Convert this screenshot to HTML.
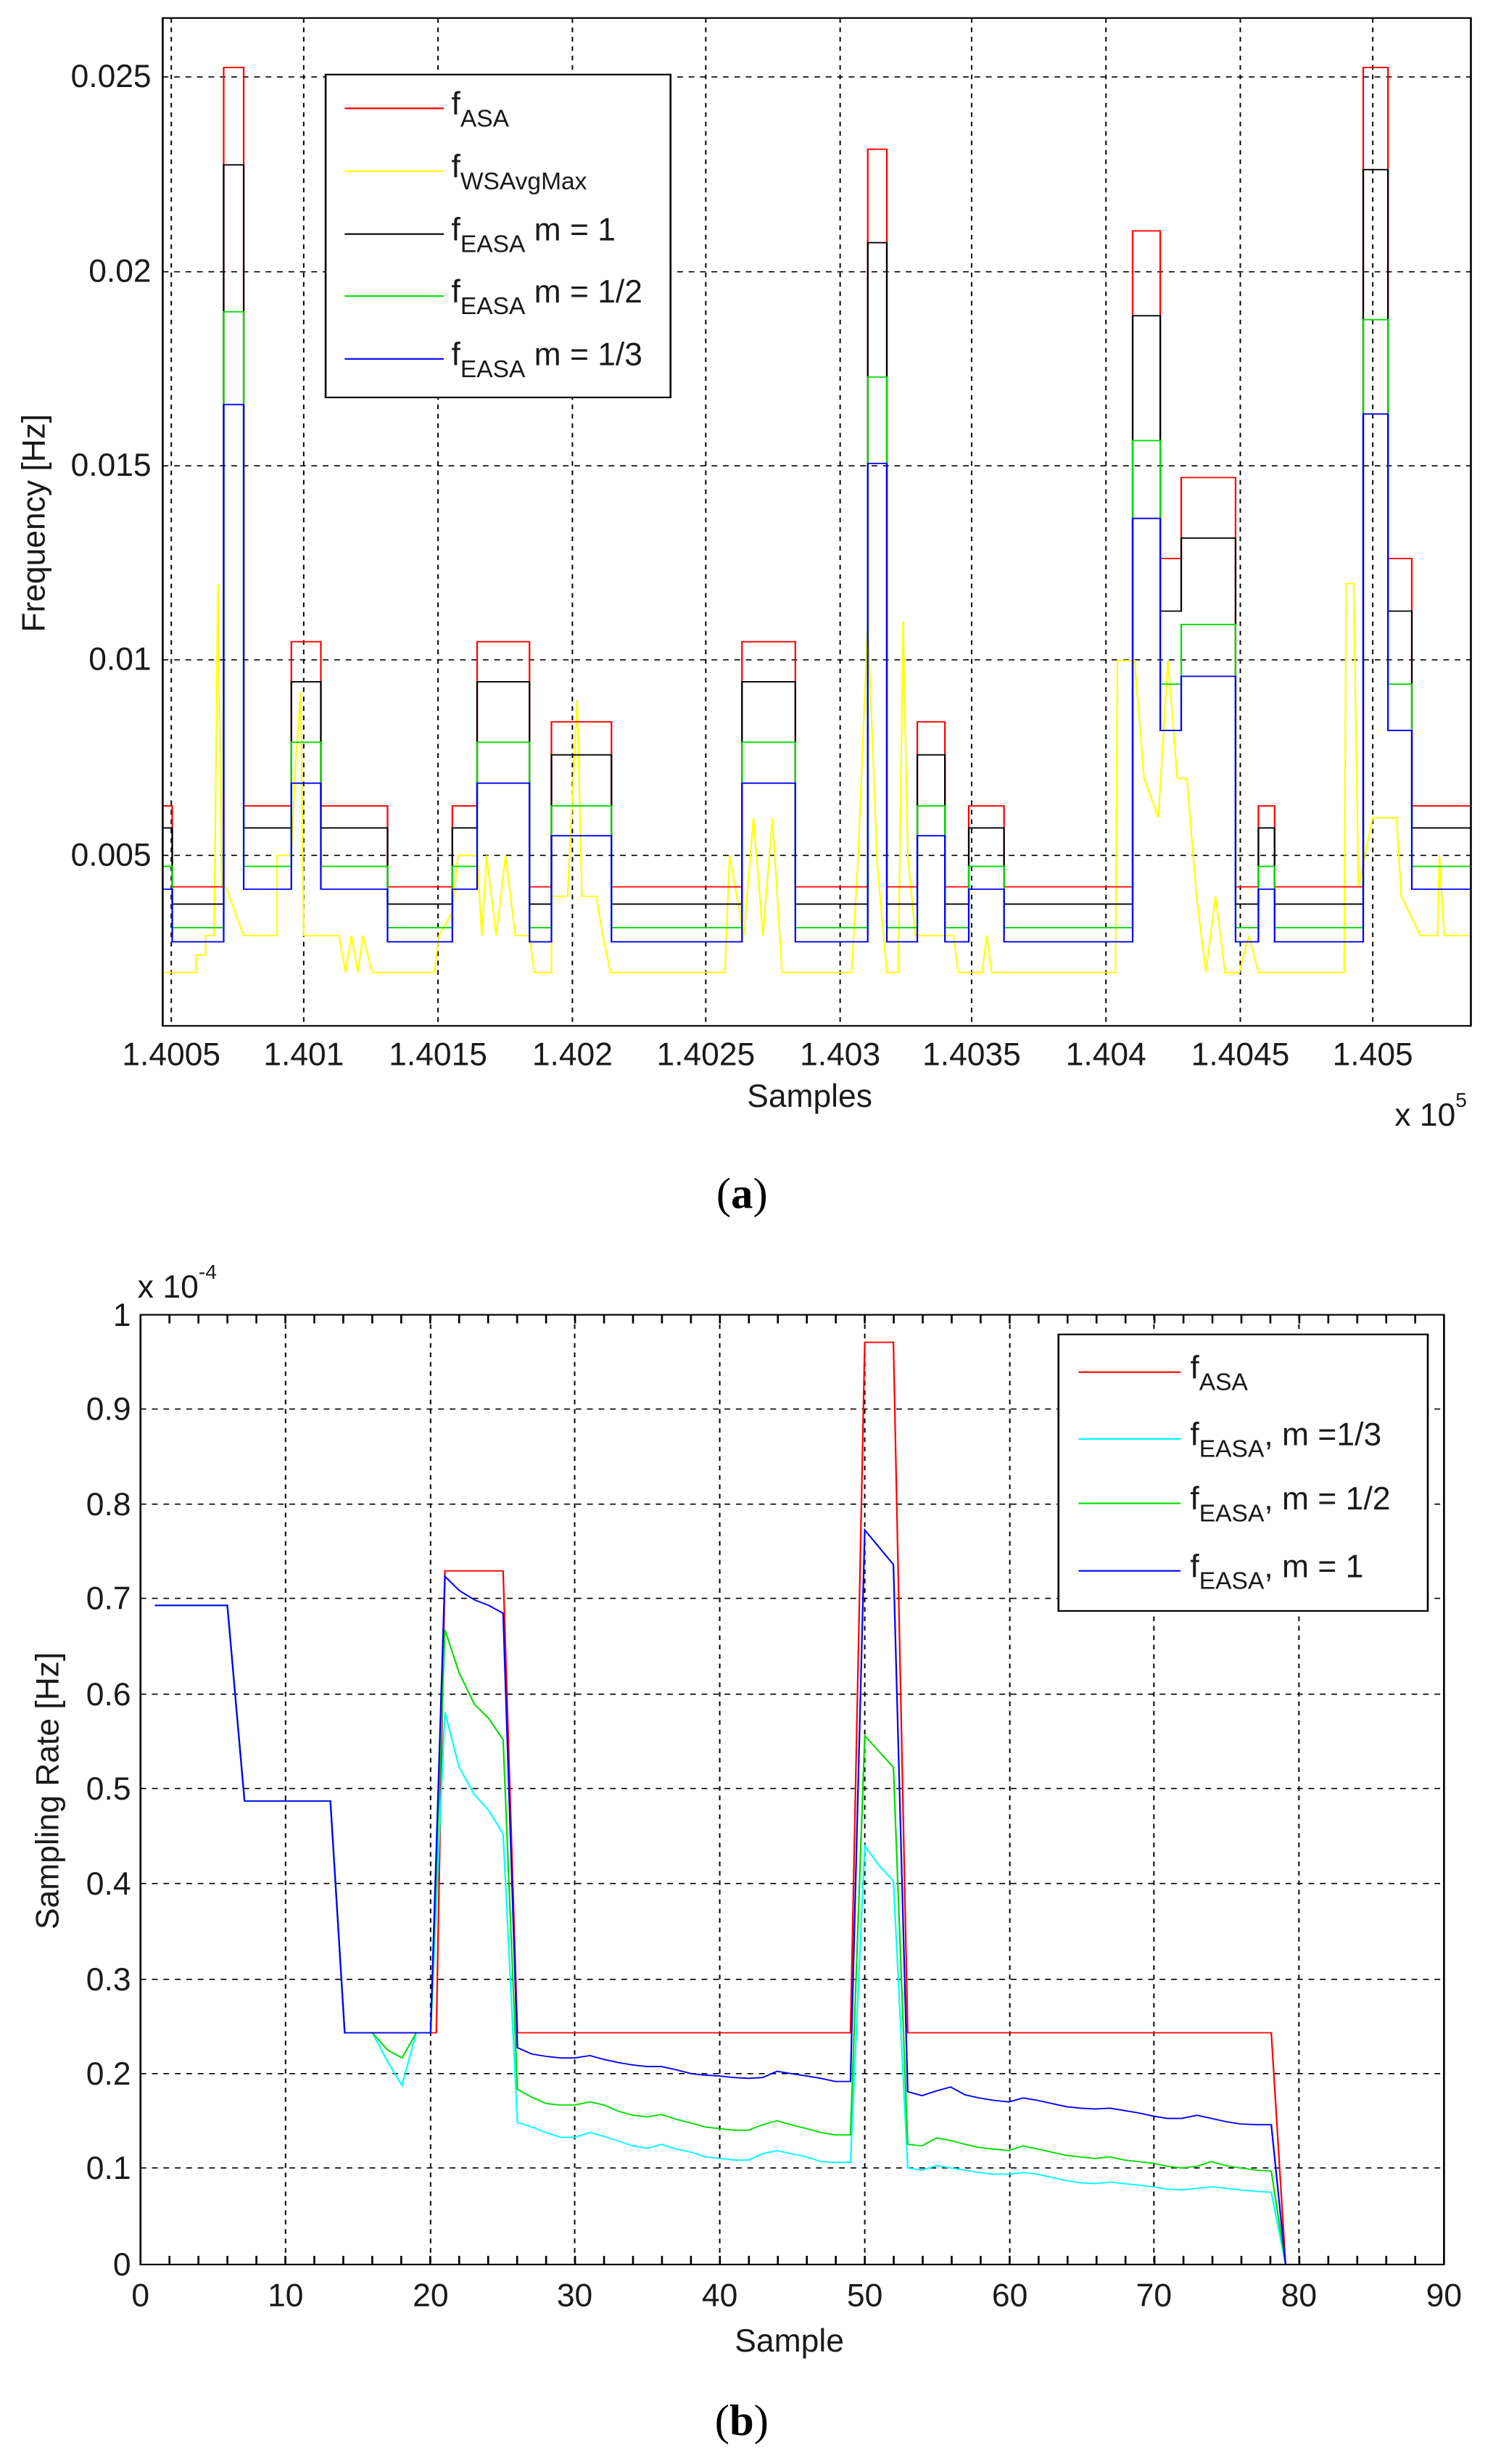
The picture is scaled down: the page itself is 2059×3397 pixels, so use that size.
<!DOCTYPE html>
<html><head><meta charset="utf-8"><style>
html,body{margin:0;padding:0;background:#fff;overflow:hidden;}
svg{display:block;}
text{font-family:"Liberation Sans",sans-serif;fill:#1a1a1a;}
.t{font-size:41px;}
.cap{font-family:"Liberation Serif",serif;font-size:56px;fill:#000;}
</style></head><body>
<svg id="s" width="2059" height="3397" viewBox="0 0 2059 3397" xmlns="http://www.w3.org/2000/svg">
<rect width="2059" height="3397" fill="#fff"/>
<g id="A" transform="translate(1,1) scale(1.314,1.083)">
  <g id="Agrid" stroke="#000" stroke-width="1.5" stroke-dasharray="6,6" fill="none"></g>
  <g id="Aseries" fill="none" stroke-width="1.7" stroke-linejoin="miter"></g>
  <rect x="170" y="22" width="1373" height="1283" fill="none" stroke="#000" stroke-width="2"/>
  <g class="t" text-anchor="end">
    <text x="158" y="110">0.025</text><text x="158" y="358">0.02</text><text x="158" y="605">0.015</text><text x="158" y="852">0.01</text><text x="158" y="1101">0.005</text>
  </g>
  <g class="t" text-anchor="middle">
    <text x="179" y="1355">1.4005</text><text x="318" y="1355">1.401</text><text x="459" y="1355">1.4015</text><text x="600" y="1355">1.402</text><text x="740" y="1355">1.4025</text><text x="881" y="1355">1.403</text><text x="1019" y="1355">1.4035</text><text x="1160" y="1355">1.404</text><text x="1301" y="1355">1.4045</text><text x="1440" y="1355">1.405</text>
    <text x="849" y="1408">Samples</text>
  </g>
  <text class="t" x="1463" y="1432">x 10<tspan font-size="26" dy="-24">5</tspan></text>
  <text class="t" text-anchor="middle" transform="translate(46,665) rotate(-90) scale(1,0.824)">Frequency [Hz]</text>
  <text class="cap" x="778" y="1537" text-anchor="middle">(<tspan font-weight="bold">a</tspan>)</text>
  <rect x="341" y="94" width="362" height="411" fill="#fff" stroke="#000" stroke-width="2"/>
  <g stroke-width="2">
    <line x1="361" y1="137" x2="465" y2="137" stroke="#f00"/>
    <line x1="361" y1="217" x2="465" y2="217" stroke="#ff0"/>
    <line x1="361" y1="297" x2="465" y2="297" stroke="#000"/>
    <line x1="361" y1="376" x2="465" y2="376" stroke="#0d0"/>
    <line x1="361" y1="456" x2="465" y2="456" stroke="#00f"/>
  </g>
  <g class="t">
    <text x="473" y="145">f<tspan font-size="31" dy="15">ASA</tspan></text>
    <text x="473" y="225">f<tspan font-size="31" dy="15">WSAvgMax</tspan></text>
    <text x="473" y="305">f<tspan font-size="31" dy="15">EASA</tspan><tspan dy="-15"> m = 1</tspan></text>
    <text x="473" y="384">f<tspan font-size="31" dy="15">EASA</tspan><tspan dy="-15"> m = 1/2</tspan></text>
    <text x="473" y="464">f<tspan font-size="31" dy="15">EASA</tspan><tspan dy="-15"> m = 1/3</tspan></text>
  </g>
</g>
<g id="B" transform="translate(-1,1700) scale(1.316,1.083)">
  <g id="Bgrid" stroke="#000" stroke-width="1.5" stroke-dasharray="6,6" fill="none"></g>
  <g id="Bticks" stroke="#000" stroke-width="2"></g>
  <g id="Bseries" fill="none" stroke-width="1.7"></g>
  <rect x="148" y="104" width="1366" height="1209" fill="none" stroke="#000" stroke-width="2"/>
  <g class="t" text-anchor="end">
    <text x="138" y="118">1</text><text x="138" y="238">0.9</text><text x="138" y="359">0.8</text><text x="138" y="479">0.7</text><text x="138" y="601">0.6</text><text x="138" y="721">0.5</text><text x="138" y="842">0.4</text><text x="138" y="964">0.3</text><text x="138" y="1084">0.2</text><text x="138" y="1204">0.1</text><text x="138" y="1327">0</text>
  </g>
  <g class="t" text-anchor="middle">
    <text x="148" y="1366">0</text><text x="300" y="1366">10</text><text x="452" y="1366">20</text><text x="603" y="1366">30</text><text x="755" y="1366">40</text><text x="907" y="1366">50</text><text x="1059" y="1366">60</text><text x="1210" y="1366">70</text><text x="1362" y="1366">80</text><text x="1514" y="1366">90</text>
    <text x="828" y="1424">Sample</text>
  </g>
  <text class="t" x="145" y="82">x 10<tspan font-size="26" dy="-24">-4</tspan></text>
  <text class="t" text-anchor="middle" transform="translate(62,710) rotate(-90) scale(1,0.823)">Sampling Rate [Hz]</text>
  <text class="cap" x="778" y="1530" text-anchor="middle">(<tspan font-weight="bold">b</tspan>)</text>
  <rect x="1110" y="129" width="387" height="352" fill="#fff" stroke="#000" stroke-width="2"/>
  <g stroke-width="2">
    <line x1="1131" y1="177" x2="1238" y2="177" stroke="#f00"/>
    <line x1="1131" y1="262" x2="1238" y2="262" stroke="#0ff"/>
    <line x1="1131" y1="344" x2="1238" y2="344" stroke="#0d0"/>
    <line x1="1131" y1="430" x2="1238" y2="430" stroke="#00f"/>
  </g>
  <g class="t">
    <text x="1248" y="185">f<tspan font-size="31" dy="15">ASA</tspan></text>
    <text x="1248" y="270">f<tspan font-size="31" dy="15">EASA</tspan><tspan dy="-15">, m =1/3</tspan></text>
    <text x="1248" y="352">f<tspan font-size="31" dy="15">EASA</tspan><tspan dy="-15">, m = 1/2</tspan></text>
    <text x="1248" y="438">f<tspan font-size="31" dy="15">EASA</tspan><tspan dy="-15">, m = 1</tspan></text>
  </g>
</g>
</svg>
<script>
var NS="http://www.w3.org/2000/svg";
function el(p,t,a){var e=document.createElementNS(NS,t);for(var k in a)e.setAttribute(k,a[k]);p.appendChild(e);return e;}
var texts=document.querySelectorAll("#A text, #B text");
for(var i=0;i<texts.length;i++){var t=texts[i];if(t.getAttribute("transform"))continue;
 var x=+t.getAttribute("x"),y=+t.getAttribute("y");
 t.setAttribute("transform","translate("+x+","+y+") scale(0.824,1) translate("+(-x)+","+(-y)+")");}
var ag=document.getElementById("Agrid");
[179,318,459,600,740,881,1019,1160,1301,1440].forEach(function(x){el(ag,"line",{x1:x,y1:22,x2:x,y2:1305});});
[97,345,592,839,1088].forEach(function(y){el(ag,"line",{x1:170,y1:y,x2:1543,y2:y});});
var bg=document.getElementById("Bgrid");
[300,452,603,755,907,1059,1210,1362].forEach(function(x){el(bg,"line",{x1:x,y1:104,x2:x,y2:1313});});
[224,345,465,587,707,828,950,1070,1190].forEach(function(y){el(bg,"line",{x1:148,y1:y,x2:1514,y2:y});});
var bt=document.getElementById("Bticks");
for(var s=2;s<90;s+=2){var x=148+15.18*s;el(bt,"line",{x1:x,y1:1313,x2:x,y2:1302});el(bt,"line",{x1:x,y1:104,x2:x,y2:115});}
var L={base:[1128,1150,1180,1198],L6:[1025,1053,1102,1131],L10:[816,867,944,996],L8:[918,960,1025,1063],
P25:[85,209,396,514],P23:[189,308,479,589],P21:[293,401,560,659],L147:[607,684,794,860],L126:[710,777,870,929],P25b:[85,215,406,526]};
var seg=[[170,"L6"],[180,"base"],[234,"P25"],[255,"L6"],[305,"L10"],[336,"L6"],[406,"base"],[474,"L6"],[500,"L10"],[555,"base"],[578,"L8"],[641,"base"],[778,"L10"],[834,"base"],[910,"P23"],[930,"base"],[962,"L8"],[991,"base"],[1016,"L6"],[1053,"base"],[1188,"P21"],[1217,"L126"],[1239,"L147"],[1296,"base"],[1320,"L6"],[1337,"base"],[1430,"P25b"],[1456,"L126"],[1481,"L6"]];
var as=document.getElementById("Aseries");
var yel=[[170,1237],[205,1237],[205,1215],[215,1215],[215,1190],[224,1190],[228,742],[232,1128],[236,1128],[255,1190],[290,1190],[290,1088],[305,1088],[310,960],[315,880],[318,1190],[355,1190],[362,1237],[368,1190],[375,1237],[380,1190],[390,1237],[455,1237],[460,1190],[474,1160],[480,1088],[500,1088],[505,1190],[510,1088],[520,1190],[530,1088],[540,1190],[555,1190],[560,1237],[578,1237],[578,1140],[595,1140],[605,890],[610,1140],[625,1140],[632,1190],[640,1237],[760,1237],[765,1088],[780,1190],[790,1040],[800,1190],[810,1040],[820,1237],[893,1237],[900,1088],[910,790],[920,1100],[930,1237],[942,1237],[947,790],[952,1088],[960,1190],[1000,1190],[1005,1237],[1030,1237],[1035,1190],[1040,1237],[1170,1237],[1172,840],[1190,840],[1200,990],[1215,1040],[1225,840],[1235,990],[1245,990],[1255,1140],[1265,1237],[1275,1140],[1285,1237],[1300,1237],[1310,1190],[1320,1237],[1410,1237],[1412,742],[1420,742],[1425,1128],[1440,1040],[1465,1040],[1470,1140],[1490,1190],[1508,1190],[1510,1088],[1515,1190],[1543,1190]];
el(as,"polyline",{points:yel.map(function(p){return p.join(",");}).join(" "),stroke:"#ff0"});
var cols=["#f00","#000","#0d0","#00f"];
for(var i=0;i<4;i++){
  var d="M170,"+L[seg[0][1]][i];
  for(var j=0;j<seg.length;j++){
    var x1=(j+1<seg.length)?seg[j+1][0]:1543,y=L[seg[j][1]][i];
    d+=" V"+y+" H"+x1;
  }
  el(as,"path",{d:d,stroke:cols[i]});
}
var bs=document.getElementById("Bseries");
var common=[[163,474],[239,474],[257,723],[347,723],[362,1018]];
var red=common.concat([[452,1018],[458,1018],[467,430],[528,430],[543,1018],[892,1018],[907,139],[937,139],[952,1018],[1333,1018],[1348,1313],[1408,1313]]);
var cyan=common.concat([[391,1018],[407,1055],[422,1085],[437,1018],[452,1018],[467,610],[482,680],[498,715],[513,735],[528,765],[543,1132],[558,1138],[573,1145],[588,1151],[603,1151],[619,1145],[634,1150],[649,1156],[664,1162],[679,1165],[694,1160],[709,1166],[725,1170],[740,1176],[755,1178],[770,1180],[785,1180],[800,1172],[815,1168],[830,1172],[846,1176],[861,1182],[876,1183],[892,1183],[907,780],[922,805],[937,825],[952,1190],[967,1193],[982,1187],[997,1190],[1012,1193],[1027,1196],[1042,1198],[1058,1198],[1073,1196],[1088,1198],[1103,1202],[1118,1206],[1133,1209],[1148,1210],[1164,1208],[1179,1210],[1194,1212],[1209,1214],[1224,1217],[1239,1218],[1255,1216],[1270,1214],[1285,1216],[1300,1218],[1318,1220],[1333,1221],[1348,1313]]);
var green=common.concat([[391,1018],[407,1040],[422,1050],[437,1018],[452,1018],[467,505],[482,560],[498,600],[513,618],[528,645],[543,1090],[558,1100],[573,1108],[588,1110],[603,1110],[619,1106],[634,1110],[649,1118],[664,1123],[679,1125],[694,1122],[709,1128],[725,1133],[740,1138],[755,1140],[770,1142],[785,1142],[800,1135],[815,1130],[830,1135],[846,1140],[861,1145],[876,1148],[892,1148],[907,640],[922,660],[937,680],[952,1160],[967,1162],[982,1152],[997,1155],[1012,1160],[1027,1164],[1042,1166],[1058,1168],[1073,1162],[1088,1166],[1103,1170],[1118,1174],[1133,1176],[1148,1178],[1164,1176],[1179,1180],[1194,1182],[1209,1184],[1224,1188],[1239,1190],[1255,1188],[1270,1182],[1285,1187],[1300,1190],[1318,1193],[1333,1194],[1348,1313]]);
var blue=common.concat([[452,1018],[467,437],[482,455],[498,467],[513,474],[528,484],[543,1037],[558,1045],[573,1048],[588,1050],[603,1050],[619,1047],[634,1052],[649,1056],[664,1059],[679,1061],[694,1061],[709,1065],[725,1070],[740,1072],[755,1073],[770,1075],[785,1076],[800,1075],[815,1067],[830,1070],[846,1073],[861,1076],[876,1080],[892,1080],[907,378],[922,400],[937,422],[952,1093],[967,1098],[982,1092],[997,1087],[1012,1097],[1027,1101],[1042,1104],[1058,1106],[1073,1101],[1088,1104],[1103,1108],[1118,1112],[1133,1114],[1148,1115],[1164,1114],[1179,1117],[1194,1120],[1209,1124],[1224,1127],[1239,1127],[1255,1123],[1270,1127],[1285,1131],[1300,1134],[1318,1135],[1333,1135],[1348,1313],[1408,1313]]);
[[red,"#f00"],[cyan,"#0ff"],[green,"#0d0"],[blue,"#00f"]].forEach(function(s){
  el(bs,"polyline",{points:s[0].map(function(p){return p.join(",");}).join(" "),stroke:s[1]});
});
</script>
</body></html>
